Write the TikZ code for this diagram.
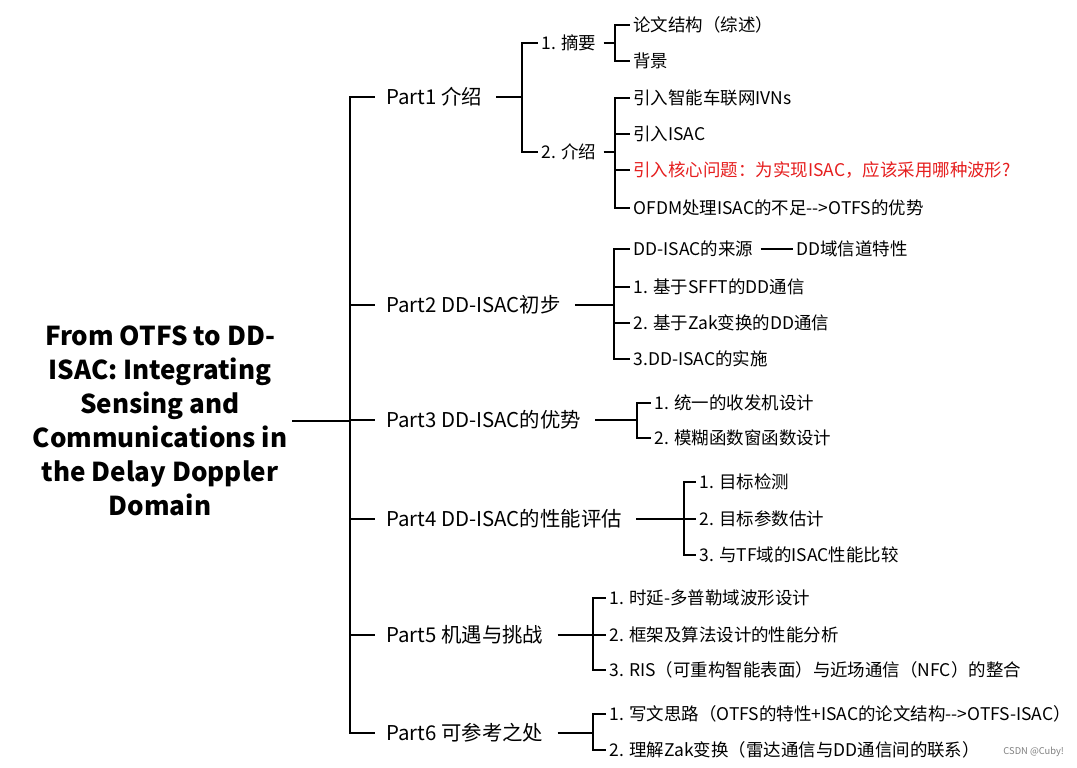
\documentclass[tikz,border=0pt]{standalone}
\usepackage{fontspec}
\setmainfont{Noto Sans CJK SC}
\begin{document}
\begin{tikzpicture}[x=0.75pt,y=-0.75pt,line width=1.2pt,
  every node/.style={inner sep=2pt,anchor=west},
  part/.style={font=\fontsize{15.3}{18}\selectfont},
  leaf/.style={font=\fontsize{13.1}{15}\selectfont},
  conn/.style={draw=black,line width=1.2pt}]
\useasboundingbox (0,0) rectangle (1077,767);
\fill[white] (0,0) rectangle (1077,767);
\node[anchor=center,align=center,font=\fontsize{19.5}{25.5}\selectfont\bfseries] (root) at (160,421)
 {From OTFS to DD-\\ISAC: Integrating\\Sensing and\\Communications in\\the Delay Doppler\\Domain};
\coordinate (sp) at (350,421);
\node[part] (p1) at (383,97) {Part1 介绍};
\node[part] (p2) at (383,305) {Part2 DD-ISAC初步};
\node[part] (p3) at (383,420) {Part3 DD-ISAC的优势};
\node[part] (p4) at (383,519) {Part4 DD-ISAC的性能评估};
\node[part] (p5) at (383,635) {Part5 机遇与挑战};
\node[part] (p6) at (383,733) {Part6 可参考之处};
\draw[conn] (292,421) -- (sp);
\foreach \p in {p1,p2,p3,p4,p5,p6} \draw[conn] (sp) |- ([xshift=-6pt]\p.west);
% Part1
\node[leaf] (a1) at (538,43) {1. 摘要};
\node[leaf] (a2) at (538,152) {2. 介绍};
\draw[conn] ([xshift=8pt]p1.east) -- (522,97);
\foreach \c in {a1,a2} \draw[conn] (522,97) |- (\c.west);
\node[leaf] (a11) at (630,25) {论文结构（综述）};
\node[leaf] (a12) at (630,61) {背景};
\draw[conn] ([xshift=3pt]a1.east) -- (615,43);
\foreach \c in {a11,a12} \draw[conn] (615,43) |- (\c.west);
\node[leaf] (a21) at (630,98) {引入智能车联网IVNs};
\node[leaf] (a22) at (630,134) {引入ISAC};
\node[leaf,text={rgb,255:red,230;green,30;blue,30}] (a23) at (630,170) {引入核心问题：为实现ISAC，应该采用哪种波形?};
\node[leaf] (a24) at (630,208) {OFDM处理ISAC的不足-{}-{}>OTFS的优势};
\draw[conn] ([xshift=3pt]a2.east) -- (615,152);
\foreach \c in {a21,a22,a23,a24} \draw[conn] (615,152) |- (\c.west);
% Part2
\node[leaf] (b1) at (630,249) {DD-ISAC的来源};
\node[leaf] (b1b) at (793,249) {DD域信道特性};
\draw[conn] ([xshift=3pt]b1.east) -- (b1b.west);
\node[leaf] (b2) at (630,287) {1. 基于SFFT的DD通信};
\node[leaf] (b3) at (630,323) {2. 基于Zak变换的DD通信};
\node[leaf] (b4) at (630,359) {3.DD-ISAC的实施};
\draw[conn] ([xshift=8pt]p2.east) -- (614,305);
\foreach \c in {b1,b2,b3,b4} \draw[conn] (614,305) |- (\c.west);
% Part3
\node[leaf] (c1) at (651,403) {1. 统一的收发机设计};
\node[leaf] (c2) at (651,438) {2. 模糊函数窗函数设计};
\draw[conn] ([xshift=8pt]p3.east) -- (637,420);
\foreach \c in {c1,c2} \draw[conn] (637,420) |- (\c.west);
% Part4
\node[leaf] (d1) at (696,482) {1. 目标检测};
\node[leaf] (d2) at (696,519) {2. 目标参数估计};
\node[leaf] (d3) at (696,555) {3. 与TF域的ISAC性能比较};
\draw[conn] ([xshift=8pt]p4.east) -- (684,519);
\foreach \c in {d1,d2,d3} \draw[conn] (684,519) |- (\c.west);
% Part5
\node[leaf] (e1) at (606,598) {1. 时延-多普勒域波形设计};
\node[leaf] (e2) at (606,635) {2. 框架及算法设计的性能分析};
\node[leaf] (e3) at (606,670) {3. RIS（可重构智能表面）与近场通信（NFC）的整合};
\draw[conn] ([xshift=8pt]p5.east) -- (593,635);
\foreach \c in {e1,e2,e3} \draw[conn] (593,635) |- (\c.west);
% Part6
\node[leaf] (f1) at (606,714) {1. 写文思路（OTFS的特性+ISAC的论文结构-{}-{}>OTFS-ISAC）};
\node[leaf] (f2) at (606,750) {2. 理解Zak变换（雷达通信与DD通信间的联系）};
\draw[conn] ([xshift=8pt]p6.east) -- (593,733);
\foreach \c in {f1,f2} \draw[conn] (593,733) |- (\c.west);
\node[font=\fontsize{7}{8}\selectfont,text=gray] (wm) at (1000,752) {CSDN @Cuby!};
\end{tikzpicture}
\end{document}
